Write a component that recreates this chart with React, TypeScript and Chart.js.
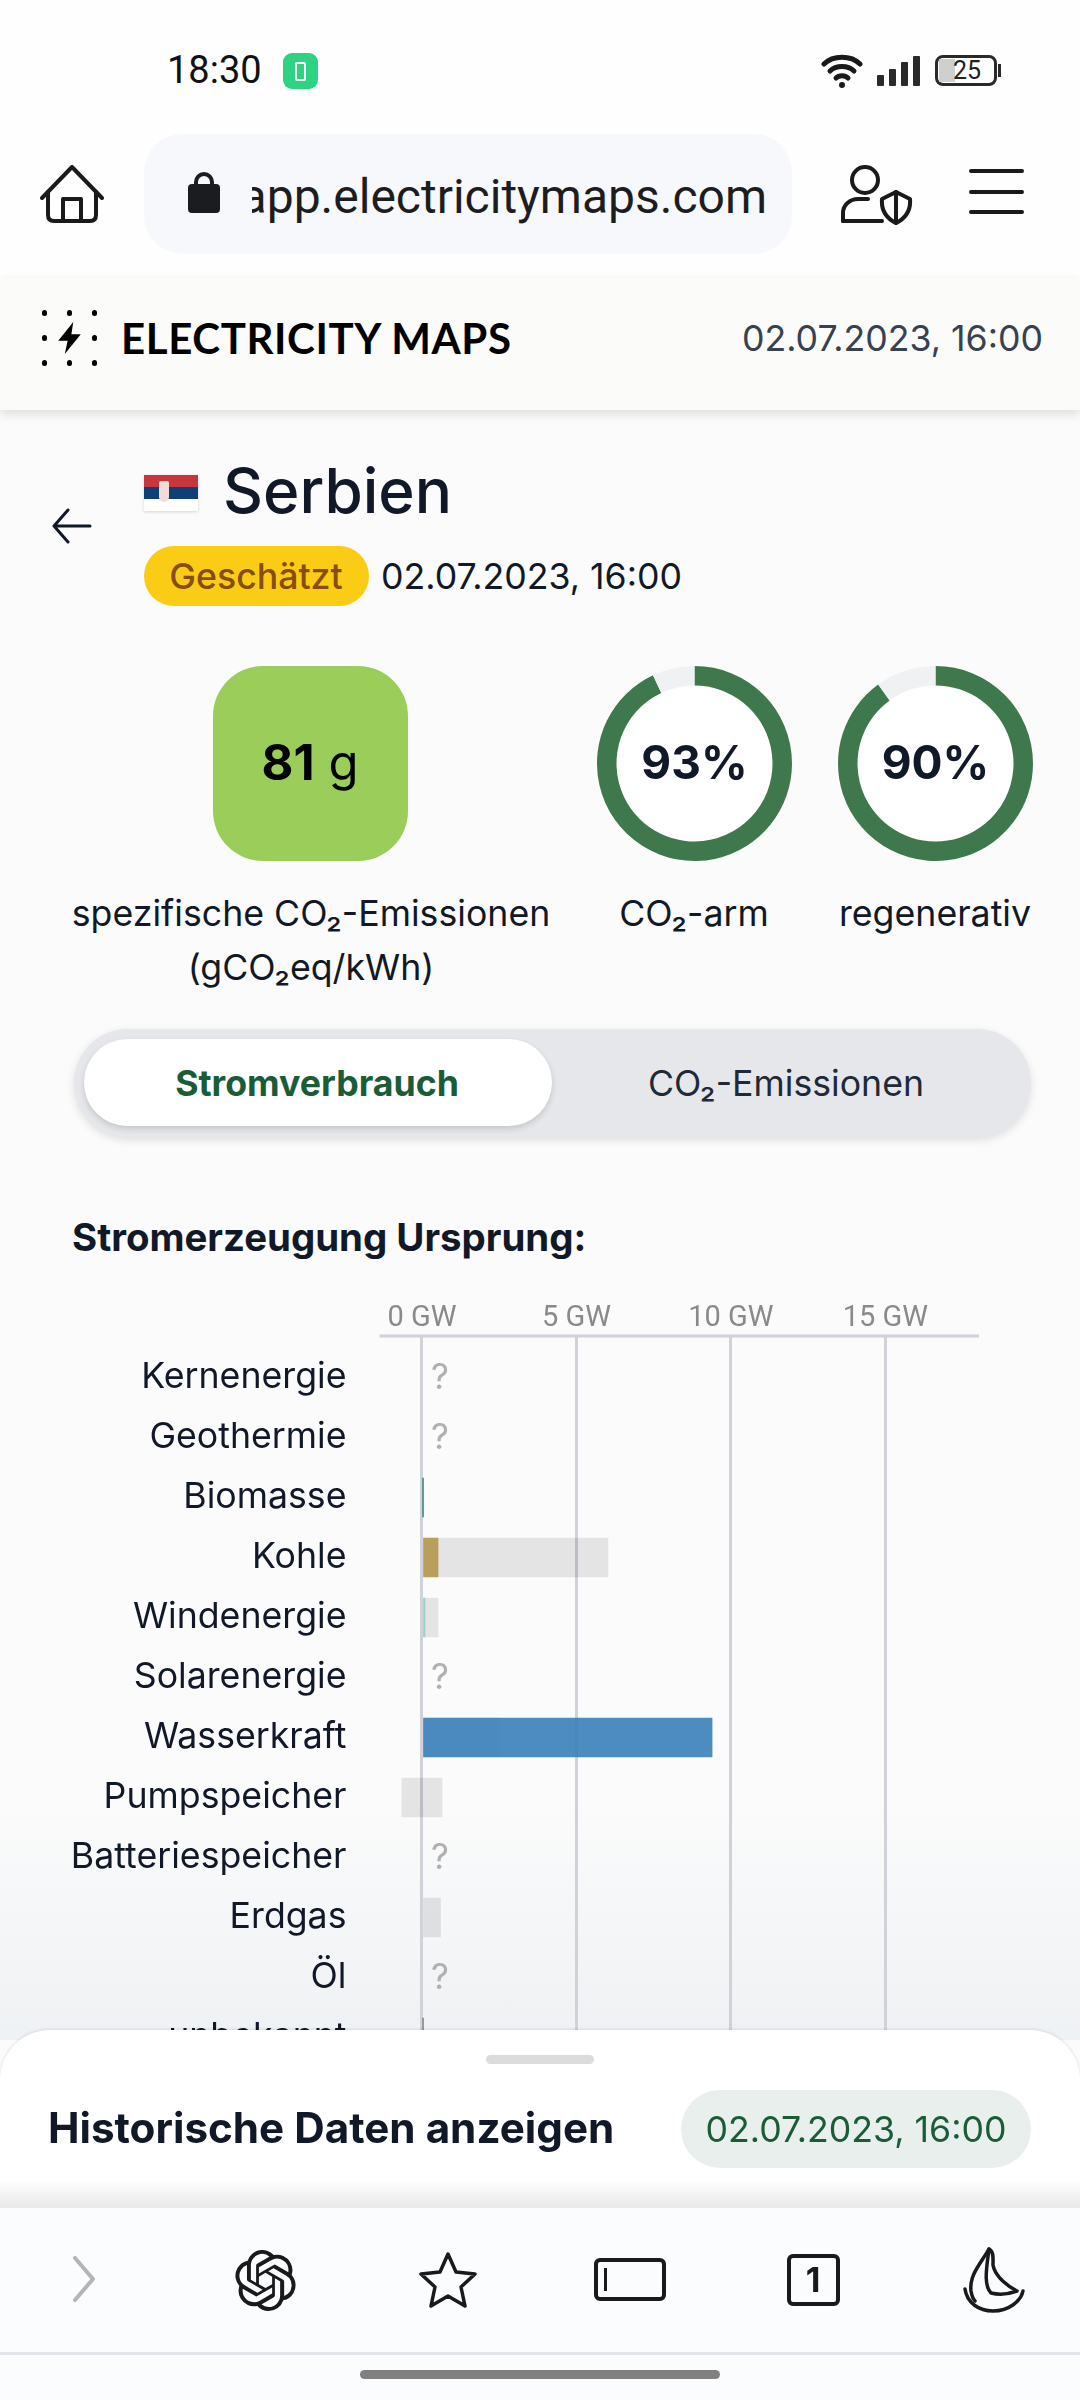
import { useEffect, useRef } from "react";
import { Chart, registerables } from "chart.js";

Chart.register(...registerables);
Chart.defaults.font.family = "Inter";

const categories = [
  "Kernenergie",
  "Geothermie",
  "Biomasse",
  "Kohle",
  "Windenergie",
  "Solarenergie",
  "Wasserkraft",
  "Pumpspeicher",
  "Batteriespeicher",
  "Erdgas",
  "Öl",
  "unbekannt",
];
// GW
const production = [null, null, 0.02, 0.52, 0.1, null, 9.39, null, null, null, null, 0.02];
const capacityMin = [null, null, null, 0, 0, null, 0, -0.65, null, 0, null, null];
const capacityMax = [null, null, null, 6.02, 0.52, null, 2.52, 0.65, null, 0.6, null, null];
const barColors = [
  "#000",
  "#000",
  "rgba(30,125,110,0.9)",
  "rgba(179,151,77,0.9)",
  "rgba(146,209,195,0.9)",
  "#000",
  "rgba(58,127,185,0.9)",
  "#000",
  "#000",
  "#000",
  "#000",
  "rgba(120,120,120,0.9)",
];
const unknownRows = ["Kernenergie", "Geothermie", "Solarenergie", "Batteriespeicher", "Öl"];
const xTicks = [0, 5, 10, 15];

const lowCarbon = [93, 7];
const renewable = [90, 10];

const ink = "#111827";
const gridColor = "#d0d1d9";
const axisGap = 11.5;
const openAiPath =
  "M22.2819 9.8211a5.9847 5.9847 0 0 0-.5157-4.9108 6.0462 6.0462 0 0 0-6.5098-2.9A6.0651 6.0651 0 0 0 4.9807 4.1818a5.9847 5.9847 0 0 0-3.9977 2.9 6.0462 6.0462 0 0 0 .7427 7.0966 5.98 5.98 0 0 0 .511 4.9107 6.051 6.051 0 0 0 6.5146 2.9001A5.9847 5.9847 0 0 0 13.2599 24a6.0557 6.0557 0 0 0 5.7718-4.2058 5.9894 5.9894 0 0 0 3.9977-2.9001 6.0557 6.0557 0 0 0-.7475-7.0729zm-9.022 12.6081a4.4755 4.4755 0 0 1-2.8764-1.0408l.1419-.0804 4.7783-2.7582a.7948.7948 0 0 0 .3927-.6813v-6.7369l2.02 1.1686a.071.071 0 0 1 .038.052v5.5826a4.504 4.504 0 0 1-4.4945 4.4944zm-9.6607-4.1254a4.4708 4.4708 0 0 1-.5346-3.0137l.142.0852 4.783 2.7582a.7712.7712 0 0 0 .7806 0l5.8428-3.3685v2.3324a.0804.0804 0 0 1-.0332.0615L9.74 19.9502a4.4992 4.4992 0 0 1-6.1408-1.6464zM2.3408 7.8956a4.485 4.485 0 0 1 2.3655-1.9728V11.6a.7664.7664 0 0 0 .3879.6765l5.8144 3.3543-2.0201 1.1685a.0757.0757 0 0 1-.071 0l-4.8303-2.7865A4.504 4.504 0 0 1 2.3408 7.872zm16.5963 3.8558L13.1038 8.364 15.1192 7.2a.0757.0757 0 0 1 .071 0l4.8303 2.7913a4.4944 4.4944 0 0 1-.6765 8.1042v-5.6772a.79.79 0 0 0-.407-.667zm2.0107-3.0231l-.142-.0852-4.7735-2.7818a.7759.7759 0 0 0-.7854 0L9.409 9.2297V6.8974a.0662.0662 0 0 1 .0284-.0615l4.8303-2.7866a4.4992 4.4992 0 0 1 6.6802 4.66zM8.3065 12.863l-2.02-1.1638a.0804.0804 0 0 1-.038-.0567V6.0742a4.4992 4.4992 0 0 1 7.3757-3.4537l-.142.0805L8.704 5.459a.7948.7948 0 0 0-.3927.6813zm1.0976-2.3654l2.602-1.4998 2.6069 1.4998v2.9994l-2.5974 1.4997-2.6067-1.4997Z";

// draws the axis line above the rows and the "?" of rows without data
const overlayPlugin = {
  id: "overlay",
  beforeDatasetsDraw(chart: any) {
    const { ctx, chartArea, scales } = chart;
    ctx.save();
    ctx.strokeStyle = gridColor;
    ctx.lineWidth = 3;
    ctx.beginPath();
    ctx.moveTo(scales.x.left, chartArea.top - axisGap);
    ctx.lineTo(scales.x.right, chartArea.top - axisGap);
    ctx.stroke();
    ctx.restore();
  },
  afterDatasetsDraw(chart: any) {
    const { ctx, scales } = chart;
    ctx.save();
    ctx.fillStyle = "#b0b0b0";
    ctx.font = "35px Inter";
    ctx.textAlign = "center";
    ctx.textBaseline = "middle";
    unknownRows.forEach((name) => {
      ctx.fillText("?", scales.x.getPixelForValue(0) + 18, scales.y.getPixelForValue(categories.indexOf(name)) + 1);
    });
    ctx.restore();
  },
};

function OriginChart() {
  const chartRef = useRef<HTMLCanvasElement>(null);

  useEffect(() => {
    if (!chartRef.current) return;
    const chart = new Chart(chartRef.current, {
      type: "bar",
      data: {
        labels: categories,
        datasets: [
          {
            data: production,
            backgroundColor: barColors,
            grouped: false,
            barThickness: 39,
          },
          {
            data: capacityMax.map((max, i) => (max === null ? null : [capacityMin[i], max])),
            backgroundColor: "rgba(0,0,0,0.09)",
            grouped: false,
            barThickness: 39,
          },
        ] as any,
      },
      options: {
        indexAxis: "y",
        responsive: false,
        animation: false,
        layout: { padding: { right: 101, bottom: 4.5 } },
        plugins: { legend: { display: false }, tooltip: { enabled: false } },
        scales: {
          x: {
            position: "top",
            min: -1.375,
            max: 18.03,
            afterBuildTicks: (scale: any) => {
              scale.ticks = xTicks.map((value) => ({ value }));
            },
            afterFit: (scale: any) => {
              scale.height = 55.5;
              scale.paddingLeft = 0;
              scale.paddingRight = 0;
            },
            border: { display: false },
            grid: { color: gridColor, lineWidth: 3, tickLength: axisGap, tickColor: gridColor, tickWidth: 3 },
            ticks: {
              color: "#8a8a8a",
              font: { size: 29, family: "Roboto" },
              padding: 0,
              maxRotation: 0,
              autoSkip: false,
              callback: (value) => `${value} GW`,
            },
          },
          y: {
            afterFit: (scale: any) => {
              scale.width = 379.5;
              scale.paddingTop = 0;
              scale.paddingBottom = 0;
            },
            border: { display: false },
            grid: { display: false, drawTicks: false },
            ticks: { color: ink, font: { size: 35.7 }, padding: 33, autoSkip: false },
          },
        },
      },
      plugins: [overlayPlugin],
    });
    return () => chart.destroy();
  }, []);

  return (
    <canvas
      ref={chartRef}
      width={1080}
      height={780}
      style={{ position: "absolute", left: 0, top: 1292, width: 1080, height: 780 }}
    />
  );
}

function Ring({ values, left, label }: { values: number[]; left: number; label: string }) {
  const ringRef = useRef<HTMLCanvasElement>(null);

  useEffect(() => {
    if (!ringRef.current) return;
    const chart = new Chart(ringRef.current, {
      type: "doughnut",
      data: {
        datasets: [{ data: values, backgroundColor: ["#3f784d", "#f0f1f2"], borderWidth: 0 }],
      },
      options: {
        responsive: false,
        animation: false,
        cutout: "80%",
        plugins: { legend: { display: false }, tooltip: { enabled: false } },
      },
    });
    return () => chart.destroy();
  }, []);

  return (
    <>
      <div style={{ position: "absolute", left, top: 666, width: 195, height: 195, borderRadius: "50%", background: "#fff" }} />
      <canvas ref={ringRef} width={195} height={195} style={{ position: "absolute", left, top: 666, width: 195, height: 195 }} />
      <T cx={left + 97.5} cy={763} size={46} weight={700} color={ink}>{label}</T>
    </>
  );
}

type TextProps = {
  x?: number;
  cx?: number;
  rx?: number;
  cy: number;
  size: number;
  weight?: number;
  color?: string;
  family?: string;
  spacing?: number;
  children: any;
};

// text placed by its left edge, centre or right edge and its vertical centre
function T({ x, cx, rx, cy, size, weight = 400, color = ink, family = "Inter", spacing = 0, children }: TextProps) {
  let left: any = x;
  let transform = "translateY(-50%)";
  if (cx !== undefined) {
    left = cx;
    transform = "translate(-50%,-50%)";
  }
  if (rx !== undefined) {
    left = rx;
    transform = "translate(-100%,-50%)";
  }
  return (
    <span style={{ position: "absolute", left, top: cy, transform, fontSize: size, fontWeight: weight, color, fontFamily: family, letterSpacing: spacing, whiteSpace: "nowrap", lineHeight: 1.2 }}>
      {children}
    </span>
  );
}

function Box({ s }: { s: any }) {
  return <div style={{ position: "absolute", ...s }} />;
}

function Icon({ x, y, w, h, vb, children }: { x: number; y: number; w: number; h: number; vb: string; children: any }) {
  return (
    <svg viewBox={vb} style={{ position: "absolute", left: x, top: y, width: w, height: h }} fill="none" stroke="#1a1a1a" strokeWidth="4" strokeLinecap="round" strokeLinejoin="round">
      {children}
    </svg>
  );
}

export default function App() {
  return (
    <div style={{ position: "absolute", left: 0, top: 0, width: 1080, height: 2400, overflow: "hidden", background: "#fbfbfb", fontFamily: "Inter" }}>
      <style>{`body{margin:0}`}</style>

      {/* status bar and browser bar */}
      <Box s={{ left: 0, top: 0, width: 1080, height: 278, background: "#fefefe" }} />
      <T x={167} cy={71} size={38} family="Roboto" color="#111">18:30</T>
      <Box s={{ left: 283, top: 53, width: 35, height: 36, borderRadius: 9, background: "#2dd283" }} />
      <Box s={{ left: 295, top: 62, width: 11, height: 19, border: "2px solid #fff", boxSizing: "border-box", borderRadius: 2 }} />
      <Icon x={821} y={52} w={45} h={36} vb="0 0 45 36">
        <path d="M3 12C12 3 30 3 39 12" strokeWidth="5" />
        <path d="M9 19C15 13 27 13 33 19" strokeWidth="5" />
        <path d="M15 26C18 23 24 23 27 26" strokeWidth="5" />
        <circle cx="21" cy="33" r="1.5" strokeWidth="3" />
      </Icon>
      {[0, 1, 2, 3].map((i) => (
        <Box key={i} s={{ left: 877 + i * 12, top: 75 - i * 6.5, width: 7, height: 11 + i * 6.5, background: "#2a2a2a", borderRadius: 1 }} />
      ))}
      <Box s={{ left: 935, top: 55, width: 62, height: 31, border: "3px solid #2a2a2a", borderRadius: 8, boxSizing: "border-box", overflow: "hidden" }} />
      <Box s={{ left: 939, top: 59, width: 16, height: 23, background: "#cfcfcf" }} />
      <Box s={{ left: 998, top: 64, width: 3, height: 13, background: "#2a2a2a" }} />
      <T cx={967} cy={71} size={25} family="Roboto" color="#222">25</T>

      <Icon x={40} y={165} w={64} h={58} vb="0 0 64 58">
        <path d="M2 33L32 2L62 33" />
        <path d="M8 27V50Q8 56 14 56H50Q56 56 56 50V27" />
        <path d="M23 56V34H41V56" />
      </Icon>
      <Box s={{ left: 144, top: 134, width: 648, height: 120, borderRadius: 38, background: "#f7f8fb" }} />
      <Box s={{ left: 188, top: 184, width: 32, height: 29, borderRadius: 4, background: "#1b1c1f" }} />
      <Box s={{ left: 194, top: 172, width: 20, height: 22, border: "4px solid #1b1c1f", borderRadius: "10px 10px 0 0", boxSizing: "border-box" }} />
      <div style={{ position: "absolute", left: 252, top: 160, width: 520, height: 72, overflow: "hidden" }}>
        <span style={{ position: "absolute", right: 5, top: 36, transform: "translateY(-50%)", fontFamily: "Roboto", fontSize: 48, color: "#1d1d1f", whiteSpace: "nowrap" }}>
          app.electricitymaps.com
        </span>
      </div>
      <Icon x={840} y={165} w={74} h={60} vb="0 0 74 60">
        <circle cx="25" cy="15" r="13" />
        <path d="M3 56V48C3 40 10 34 18 34H28" />
        <path d="M3 56H42" />
        <path d="M56 27L70 34C71 46 66 53 56 58C46 53 41 46 42 34Z" />
        <path d="M56 27V58" />
      </Icon>
      <Box s={{ left: 969, top: 169, width: 55, height: 4, background: "#1a1a1a", borderRadius: 2 }} />
      <Box s={{ left: 969, top: 190, width: 55, height: 4, background: "#1a1a1a", borderRadius: 2 }} />
      <Box s={{ left: 969, top: 210, width: 55, height: 4, background: "#1a1a1a", borderRadius: 2 }} />

      {/* page header */}
      <Box s={{ left: 0, top: 278, width: 1080, height: 132, background: "#fbfbfa", boxShadow: "0 4px 10px rgba(0,0,0,0.12)" }} />
      {[0, 1, 2].flatMap((r) =>
        [0, 1, 2].map((c) =>
          r === 1 && c === 1 ? null : <Box key={`${r}${c}`} s={{ left: 42 + c * 25, top: 310 + r * 25, width: 5, height: 6, borderRadius: 3, background: "#000" }} />
        )
      )}
      <svg viewBox="0 0 30 34" style={{ position: "absolute", left: 55, top: 322, width: 29, height: 32 }}>
        <path d="M19 0L3 20H13L10 34L27 13H17Z" fill="#000" />
      </svg>
      <T x={121} cy={338} size={42} weight={700} color="#000" family="Lato" spacing={0.6}>ELECTRICITY MAPS</T>
      <T rx={1043} cy={338} size={35.7} color="#374151">02.07.2023, 16:00</T>

      {/* zone header */}
      <Icon x={52} y={506} w={40} h={40} vb="0 0 40 40">
        <path d="M38 20H2M16 4L2 20L16 36" strokeWidth="3" stroke={ink} />
      </Icon>
      <Box s={{ left: 144, top: 475, width: 54, height: 36, boxShadow: "0 1px 3px rgba(0,0,0,0.15)" }} />
      <Box s={{ left: 144, top: 475, width: 54, height: 12, background: "#c6363c" }} />
      <Box s={{ left: 144, top: 487, width: 54, height: 12, background: "#0c4076" }} />
      <Box s={{ left: 144, top: 499, width: 54, height: 12, background: "#fff" }} />
      <Box s={{ left: 159, top: 481, width: 10, height: 21, background: "#f3dcd4", borderRadius: "2px 2px 5px 5px" }} />
      <T x={223} cy={491} size={62} weight={500}>Serbien</T>
      <Box s={{ left: 144, top: 546, width: 225, height: 60, borderRadius: 30, background: "#facc15" }} />
      <T cx={256} cy={576} size={35.7} weight={500} color="#854d0e">Geschätzt</T>
      <T x={381} cy={576} size={35.7}>02.07.2023, 16:00</T>

      {/* score tiles */}
      <Box s={{ left: 213, top: 666, width: 195, height: 195, borderRadius: 50, background: "#9bcd5a" }} />
      <T cx={310} cy={763} size={49} color="#000">
        <b style={{ fontWeight: 700 }}>81</b> g
      </T>
      <Ring values={lowCarbon} left={597} label="93%" />
      <Ring values={renewable} left={838} label="90%" />
      <T cx={311} cy={913} size={35.7}>spezifische CO₂-Emissionen</T>
      <T cx={311} cy={967} size={35.7}>(gCO₂eq/kWh)</T>
      <T cx={694} cy={913} size={35.7}>CO₂-arm</T>
      <T cx={935} cy={913} size={35.7}>regenerativ</T>

      {/* toggle */}
      <Box s={{ left: 74, top: 1029, width: 957, height: 108, borderRadius: 54, background: "#e5e7eb", boxShadow: "0 3px 8px rgba(0,0,0,0.12)" }} />
      <Box s={{ left: 84, top: 1039, width: 468, height: 87, borderRadius: 44, background: "#fff", boxShadow: "0 3px 6px rgba(0,0,0,0.14)" }} />
      <T cx={317} cy={1083} size={35.7} weight={700} color="#1a5c38">Stromverbrauch</T>
      <T cx={786} cy={1083} size={35.7} color="#1f2937">CO₂-Emissionen</T>

      <T x={72} cy={1237} size={38.4} weight={700}>Stromerzeugung Ursprung:</T>

      <Box s={{ left: 0, top: 1800, width: 1080, height: 240, background: "linear-gradient(rgba(232,236,240,0), rgba(232,236,240,0.65))" }} />
      <OriginChart />

      {/* bottom sheet and browser nav */}
      <Box s={{ left: 0, top: 2030, width: 1080, height: 178, borderRadius: "50px 50px 0 0", background: "#fff", boxShadow: "0 -1px 3px rgba(0,0,0,0.1)" }} />
      <Box s={{ left: 486, top: 2055, width: 108, height: 9, borderRadius: 5, background: "#dcdcdc" }} />
      <T x={48} cy={2128} size={42.2} weight={700}>Historische Daten anzeigen</T>
      <Box s={{ left: 681, top: 2090, width: 350, height: 78, borderRadius: 39, background: "#e8efec" }} />
      <T cx={856} cy={2129} size={35.7} color="#1a5c38">02.07.2023, 16:00</T>
      <Box s={{ left: 0, top: 2180, width: 1080, height: 28, background: "linear-gradient(#fff, #e9e9e9)" }} />
      <Box s={{ left: 0, top: 2208, width: 1080, height: 192, background: "#fbfcfe" }} />
      <Box s={{ left: 0, top: 2352, width: 1080, height: 3, background: "#e2e5ec" }} />
      <Box s={{ left: 360, top: 2370, width: 360, height: 9, borderRadius: 5, background: "#808080" }} />

      <Icon x={72} y={2256} w={24} h={46} vb="0 0 24 46">
        <path d="M3 2L21 23L3 44" stroke="#b5b5b5" />
      </Icon>
      <svg viewBox="0 0 24 24" style={{ position: "absolute", left: 235, top: 2250, width: 61, height: 61 }}>
        <path d={openAiPath} fill="#1a1a1a" />
      </svg>
      <Icon x={419} y={2251} w={58} h={58} vb="0 0 58 58">
        <path d="M29 3L37 21L56 23L42 36L46 55L29 45L12 55L16 36L2 23L21 21Z" strokeWidth="3.5" />
      </Icon>
      <Box s={{ left: 594, top: 2258, width: 72, height: 43, border: "4px solid #1a1a1a", borderRadius: 6, boxSizing: "border-box" }} />
      <Box s={{ left: 604, top: 2268, width: 3, height: 23, background: "#1a1a1a" }} />
      <Box s={{ left: 787, top: 2254, width: 53, height: 52, border: "4px solid #1a1a1a", borderRadius: 6, boxSizing: "border-box" }} />
      <T cx={813} cy={2280} size={34} weight={700} color="#1a1a1a">1</T>
      <Icon x={963} y={2247} w={62} h={66} vb="0 0 62 66">
        <path d="M26 2C18 16 6 28 8 44C9 50 10 52 12 54" strokeWidth="3.5" />
        <path d="M26 2C31 4 30 12 30 18C32 30 46 40 54 44C46 47 36 48 28 46C20 38 24 18 26 2Z" strokeWidth="3.5" />
        <path d="M2 42C4 56 16 64 30 64C46 64 58 54 60 44" strokeWidth="3.5" />
      </Icon>
    </div>
  );
}
